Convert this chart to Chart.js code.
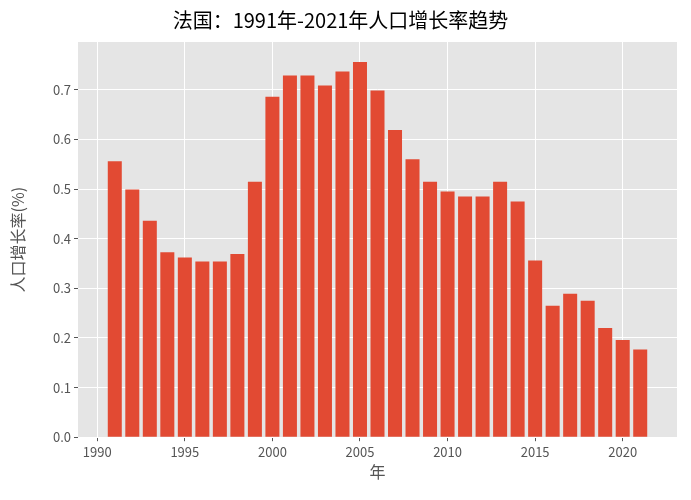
<!DOCTYPE html>
<html><head><meta charset="utf-8">
<script src="https://cdn.jsdelivr.net/npm/chart.js@4/dist/chart.umd.min.js"></script>
<style>html,body{margin:0;background:#fff}#w{width:691px;height:500px}</style>
</head><body><div id="w"><canvas id="c"></canvas></div>
<script>
const years=[1991,1992,1993,1994,1995,1996,1997,1998,1999,2000,2001,2002,2003,2004,2005,2006,2007,2008,2009,2010,2011,2012,2013,2014,2015,2016,2017,2018,2019,2020,2021];
const growth=[0.556,0.499,0.436,0.373,0.362,0.354,0.354,0.369,0.515,0.686,0.729,0.729,0.709,0.737,0.756,0.699,0.619,0.560,0.515,0.495,0.485,0.485,0.515,0.475,0.356,0.265,0.289,0.275,0.220,0.196,0.177];
const xTicks=[1990,1995,2000,2005,2010,2015,2020];
const yTicks=[0,0.1,0.2,0.3,0.4,0.5,0.6,0.7];
const F='"Noto Sans CJK SC","DejaVu Sans",sans-serif';
const bg={id:'bg',beforeDraw(ch){const a=ch.chartArea,c=ch.ctx;c.save();c.fillStyle='#E5E5E5';c.fillRect(a.left,a.top,a.right-a.left,a.bottom-a.top);c.restore();}};
new Chart(document.getElementById('c'),{type:'bar',
data:{datasets:[{data:years.map((y,i)=>({x:y,y:growth[i]})),backgroundColor:'#E24A33',barPercentage:0.8,categoryPercentage:1}]},
options:{responsive:true,maintainAspectRatio:false,animation:false,
layout:{padding:{left:4,right:14,top:4,bottom:14}},
plugins:{legend:{display:false},tooltip:{enabled:false},
title:{display:true,text:'法国：1991年-2021年人口增长率趋势',font:{family:F,size:20,weight:'normal'},color:'#000',padding:{top:4,bottom:10}}},
scales:{
x:{type:'linear',min:1988.9,max:2023.1,offset:false,
afterBuildTicks(s){s.ticks=xTicks.map(v=>({value:v}));},
ticks:{color:'#555',font:{family:F,size:13},autoSkip:false,maxRotation:0,callback:v=>String(v)},
grid:{offset:false,color:'#fff',lineWidth:1,drawTicks:true,tickColor:'#555',tickLength:4},border:{display:false},
title:{display:true,text:'年',font:{family:F,size:16},color:'#555',padding:{top:0}}},
y:{min:0,max:0.7965,
afterBuildTicks(s){s.ticks=yTicks.map(v=>({value:v}));},
afterFit(s){s.width=74;},
ticks:{color:'#555',font:{family:F,size:13},callback:v=>v.toFixed(1)},
grid:{color:'#fff',lineWidth:1,tickColor:'#555',tickLength:4},border:{display:false},
title:{display:true,text:'人口增长率(%)',font:{family:F,size:16},color:'#555'}}}},
plugins:[bg]});
</script></body></html>
